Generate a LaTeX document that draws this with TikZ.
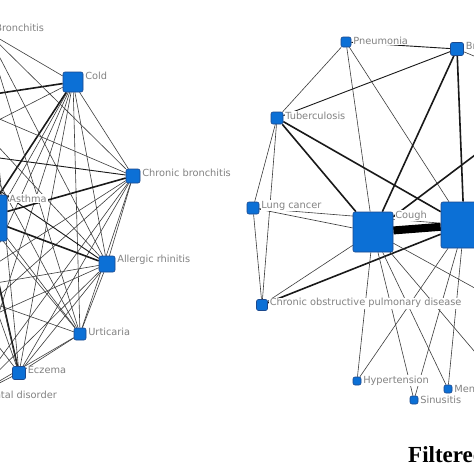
\documentclass[tikz,border=0pt]{standalone}
\usepackage{fontspec}
\setsansfont{DejaVu Sans}
\newfontfamily\titlefont{Liberation Serif}
\usetikzlibrary{backgrounds}

\definecolor{nodeblue}{RGB}{12,112,214}
\definecolor{nodeedge}{RGB}{28,72,140}
\definecolor{lblgray}{RGB}{130,130,130}
\definecolor{edgedark}{RGB}{25,25,25}
\definecolor{edgegray}{RGB}{60,60,60}

\begin{document}
\begin{tikzpicture}[x=1pt,y=-1pt,
  disease/.style={rectangle,draw=nodeedge,fill=nodeblue,rounded corners=2pt,
    minimum size=#1pt,inner sep=0pt,line width=0.6pt},
  lbl/.style={anchor=west,xshift=1pt,yshift=-4pt,inner sep=0.8pt,fill=white,
    text=lblgray,font=\sffamily\fontsize{9.8}{11}\selectfont},
  weak/.style={draw=edgegray,line width=0.6pt},
  mid/.style={draw=edgedark,line width=0.9pt},
  strong/.style={draw=edgedark,line width=1.6pt},
  heavy/.style={draw=black,line width=8pt}]

  \useasboundingbox (0,0) rectangle (474,474);

  % left network
  \node[disease=14] (brc) at (-14,31) [label={[lbl]north east:Bronchitis}] {};
  \node[disease=20] (cold) at (73,82) [label={[lbl]north east:Cold}] {};
  \node[disease=14] (chb) at (133,176) [label={[lbl]north east:Chronic bronchitis}] {};
  \node[disease=46] (ast) at (-16,218) [label={[lbl]north east:Asthma}] {};
  \node[disease=16] (alr) at (107,264) [label={[lbl]north east:Allergic rhinitis}] {};
  \node[disease=12] (urt) at (80,334) [label={[lbl]north east:Urticaria}] {};
  \node[disease=13] (ecz) at (19,373) [label={[lbl]north east:Eczema}] {};
  \node[disease=12] (mdl) at (-28,397) [label={[lbl]north east:Mental disorder}] {};
  \coordinate (la) at (-45,100);
  \coordinate (lb) at (-60,150);
  \coordinate (lc) at (-45,290);
  \coordinate (ld) at (-40,330);

  % right network
  \node[disease=10] (pne) at (346,42) [label={[lbl]north east:Pneumonia}] {};
  \node[disease=13] (bro) at (457,49) [label={[lbl]north east:Bronchitis}] {};
  \node[disease=12] (tub) at (277,118) [label={[lbl]north east:Tuberculosis}] {};
  \node[disease=12] (lun) at (253,208) [label={[lbl]north east:Lung cancer}] {};
  \node[disease=40] (cou) at (373,232) [label={[lbl]north east:Cough}] {};
  \node[disease=46] (ast2) at (464,225) [label={[lbl]north east:Asthma}] {};
  \node[disease=11] (cop) at (262,305)
    [label={[lbl]north east:Chronic obstructive pulmonary disease}] {};
  \node[disease=8] (hyp) at (357,381) [label={[lbl]north east:Hypertension}] {};
  \node[disease=8] (sin) at (414,400) [label={[lbl]north east:Sinusitis}] {};
  \node[disease=8] (men) at (448,389) [label={[lbl]north east:Mental disorder}] {};
  \coordinate (ra) at (520,75);
  \coordinate (rb) at (520,121);
  \coordinate (rc) at (520,313);
  \coordinate (rd) at (520,405);

  \node[anchor=base west,inner sep=0pt,font=\titlefont\bfseries\fontsize{23}{26}\selectfont]
    (title) at (408,462) {Filtered};

  \begin{scope}[on background layer]
  \fill[white] (0,0) rectangle (474,474);
  \path
   (cold) edge[strong] (ast)
   (cold) edge[strong] (la)
   (cold) edge[weak] (brc)
   (cold) edge[weak] (chb)
   (cold) edge[weak] (alr)
   (cold) edge[weak] (urt)
   (cold) edge[weak] (ecz)
   (cold) edge[weak] (mdl)
   (cold) edge[weak] (lb)
   (cold) edge[weak] (lc)
   (cold) edge[weak] (ld)
   (chb) edge[strong] (ast)
   (chb) edge[weak] (brc)
   (chb) edge[weak] (alr)
   (chb) edge[weak] (urt)
   (chb) edge[weak] (ecz)
   (chb) edge[weak] (mdl)
   (chb) edge[weak] (la)
   (chb) edge[mid] (lb)
   (chb) edge[weak] (lc)
   (chb) edge[weak] (ld)
   (alr) edge[strong] (ast)
   (alr) edge[weak] (brc)
   (alr) edge[weak] (urt)
   (alr) edge[weak] (ecz)
   (alr) edge[weak] (mdl)
   (alr) edge[weak] (la)
   (alr) edge[mid] (lb)
   (alr) edge[weak] (lc)
   (alr) edge[weak] (ld)
   (urt) edge[weak] (ast)
   (urt) edge[weak] (brc)
   (urt) edge[weak] (ecz)
   (urt) edge[weak] (mdl)
   (urt) edge[weak] (la)
   (urt) edge[weak] (lb)
   (urt) edge[weak] (lc)
   (ecz) edge[strong] (ast)
   (ecz) edge[weak] (brc)
   (ecz) edge[weak] (mdl)
   (ecz) edge[weak] (la)
   (ecz) edge[weak] (lb)
   (ecz) edge[weak] (lc);
  \path
   (pne) edge[mid] (bro)
   (pne) edge[weak] (tub)
   (pne) edge[weak] (cou)
   (pne) edge[weak] (ast2)
   (bro) edge[mid] (tub)
   (bro) edge[strong] (cou)
   (bro) edge[strong] (ast2)
   (bro) edge[weak] (ra)
   (tub) edge[weak] (lun)
   (tub) edge[weak] (cop)
   (tub) edge[strong] (cou)
   (tub) edge[strong] (ast2)
   (lun) edge[weak] (cop)
   (lun) edge[weak] (cou)
   (lun) edge[weak] (ast2)
   (cou) edge[heavy] (ast2)
   (rb) edge[strong] (cou)
   (cop) edge[weak] (cou)
   (cop) edge[strong] (ast2)
   (hyp) edge[weak] (cou)
   (hyp) edge[weak] (ast2)
   (sin) edge[weak] (cou)
   (sin) edge[weak] (ast2)
   (men) edge[weak] (cou)
   (men) edge[weak] (ast2)
   (cou) edge[weak] (rc)
   (cou) edge[weak] (rd);
  \end{scope}
\end{tikzpicture}
\end{document}
